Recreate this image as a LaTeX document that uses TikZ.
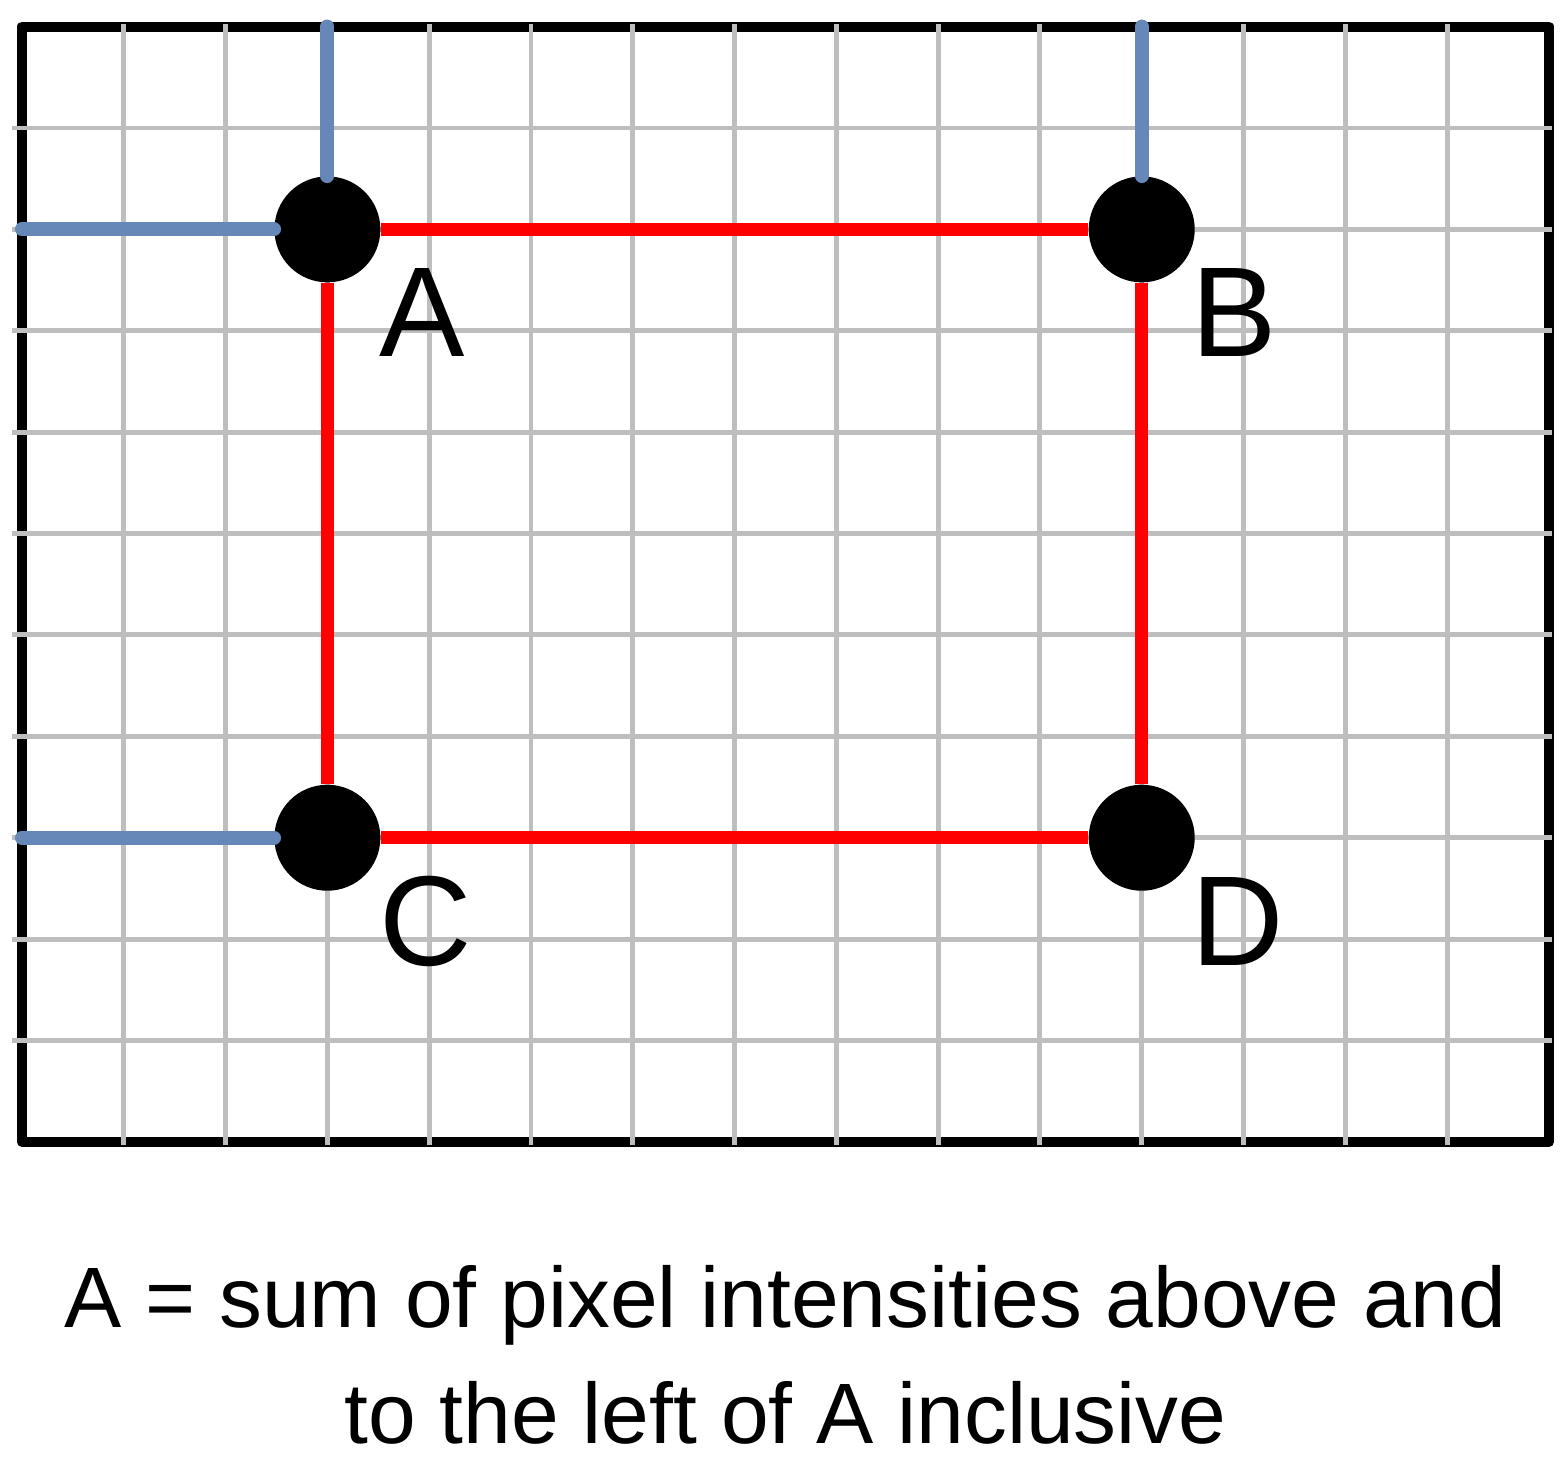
\documentclass[tikz,border=0pt]{standalone}
\usepackage{fontspec}
\setmainfont{Liberation Sans}
\usepackage{tikz}

\definecolor{gridgray}{RGB}{190,190,190}
\definecolor{sumblue}{RGB}{102,136,184}

\begin{document}
\begin{tikzpicture}[x=2.036cm,y=2.028cm,
		dot/.style={circle,fill=black,inner sep=0pt,minimum size=2.12cm},
		corner/.style={inner sep=0pt,anchor=base west,font=\fontsize{72.8}{87}\selectfont},
		caption/.style={inner sep=0pt,anchor=base,font=\fontsize{48.8}{58}\selectfont},
		sumline/.style={sumblue,line width=8pt,line cap=round},
		boxline/.style={red,line width=7.4pt}]
		\useasboundingbox (-0.2161,-3.3235) rectangle (15.1876,11.2623);
		\draw[line width=5.7pt,line join=round] (0,0) rectangle (15,11);
		\foreach \x in {1,...,14}
			\draw[gridgray,line width=2.8pt] (\x,-0.03) -- (\x,11.03);
		\foreach \y in {1,...,10}
			\draw[gridgray,line width=2.8pt] (-0.1,\y) -- (15.03,\y);
		
		\coordinate (Atop) at (3,11);
		\coordinate (Aleft) at (0,9);
		\coordinate (Btop) at (11,11);
		\coordinate (Cleft) at (0,3);
		\node[dot] (A) at (3,9) {};
		\node[dot] (B) at (11,9) {};
		\node[dot] (C) at (3,3) {};
		\node[dot] (D) at (11,3) {};
		\draw[sumline] (Atop) -- (A);
		\draw[sumline] (Aleft) -- (A);
		\draw[sumline] (Btop) -- (B);
		\draw[sumline] (Cleft) -- (C);
		\draw[boxline] (A) -- (B) -- (D) -- (C) -- (A);
		
		\node[corner] (labA) at (3.51,7.742) {A};
		\node[corner] (labB) at (11.49,7.742) {B};
		\node[corner] (labC) at (3.51,1.74) {C};
		\node[corner] (labD) at (11.49,1.74) {D};
		
		\node[caption] (cap1) at (7.5,-1.834) {A = sum of pixel intensities above and};
		\node[caption] (cap2) at (7.5,-2.978) {to the left of A inclusive};
	\end{tikzpicture}
\end{document}
